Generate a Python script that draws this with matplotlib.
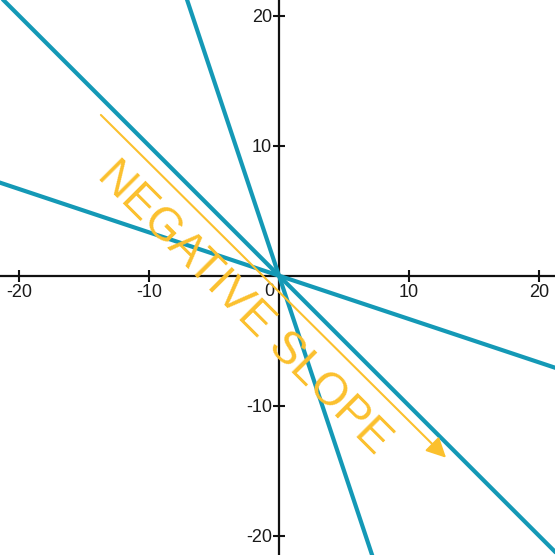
import numpy as np
import matplotlib
matplotlib.use("Agg")
import matplotlib.pyplot as plt

plt.rcParams['font.family'] = ['Liberation Sans', 'DejaVu Sans']
plt.rcParams['axes.unicode_minus'] = False

# Data
slopes = [-1.0, -3.0, -1.0 / 3.0]
x_ticks = [-20, -10, 10, 20]
y_ticks = [-20, -10, 10, 20]
x_tick_labels = ['-20', '-10', '10', '20']
y_tick_labels = ['-20', '-10', '10', '20']
arrow_start = (-13.7, 12.36)
arrow_end = (12.85, -14.0)
label_text = 'NEGATIVE SLOPE'
label_pos = (-2.7, -2.5)

BLUE = '#1499b6'
GOLD = '#fbc02d'

fig = plt.figure(figsize=(5.55, 5.55), dpi=100)
ax = fig.add_axes([0, 0, 1, 1])
ax.set_xlim(-21.46, 21.23)
ax.set_ylim(-21.48, 21.2)

xs = np.array([-30.0, 30.0])
for m in slopes:
    ax.plot(xs, m * xs, color=BLUE, lw=3.0, solid_capstyle='butt', zorder=3)

for s in ['top', 'right']:
    ax.spines[s].set_visible(False)
for s in ['left', 'bottom']:
    ax.spines[s].set_position(('data', 0))
    ax.spines[s].set_linewidth(1.6)
    ax.spines[s].set_color('#111111')
    ax.spines[s].set_zorder(2)

ax.set_xticks(x_ticks)
ax.set_xticklabels(x_tick_labels)
ax.set_yticks(y_ticks)
ax.set_yticklabels(y_tick_labels)
ax.tick_params(direction='inout', length=8, width=1.5, color='#111111',
               labelsize=13, labelcolor='#1a1a1a')
ax.tick_params(axis='x', pad=2)
ax.tick_params(axis='y', pad=1)
ax.text(-0.35, -0.55, '0', ha='right', va='top', fontsize=13, color='#1a1a1a')

ax.annotate('', xy=arrow_end, xytext=arrow_start,
            arrowprops=dict(arrowstyle='-|>', color=GOLD, lw=1.5,
                            mutation_scale=30, shrinkA=0, shrinkB=0),
            zorder=4)
ax.text(label_pos[0], label_pos[1], label_text, rotation=-45,
        rotation_mode='anchor', ha='center', va='center',
        fontsize=33, color=GOLD, zorder=5)

fig.savefig('out.png', dpi=100)
